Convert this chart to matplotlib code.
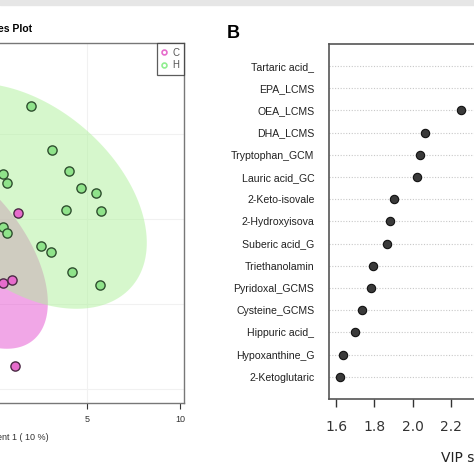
import numpy as np
import matplotlib
matplotlib.use("Agg")
import matplotlib.pyplot as plt
from matplotlib.patches import Rectangle

plt.rcParams['font.family'] = ['Liberation Sans', 'DejaVu Sans']

# ---- panel A : PLS-DA scores (only the visible part) ----
h_x = [1.99, 3.12, 0.48, 0.70, 4.03, 4.68, 5.48, 3.87, 5.75, 0.48, 0.70, 2.53, 3.06, 4.19, 5.70]
h_y = [6.65, 4.06, 2.65, 2.12, 2.82, 1.82, 1.53, 0.53, 0.47, -0.47, -0.82, -1.59, -1.94, -3.12, -3.88]
c_x = [1.29, 0.48, 0.97, 1.13]
c_y = [0.35, -3.76, -3.59, -8.65]

# confidence regions: centre, sd x, sd y, correlation
h_ell = (1.77, 1.35, 6.45, 6.63, -0.414)
c_ell = (-1.83, -1.82, 4.73, 5.81, -0.535)

# ---- panel B : VIP scores ----
vip_names = ['Tartaric acid_', 'EPA_LCMS', 'OEA_LCMS', 'DHA_LCMS', 'Tryptophan_GCM',
             'Lauric acid_GC', '2-Keto-isovale', '2-Hydroxyisova', 'Suberic acid_G',
             'Triethanolamin', 'Pyridoxal_GCMS', 'Cysteine_GCMS', 'Hippuric acid_',
             'Hypoxanthine_G', '2-Ketoglutaric']
vip_vals = [2.99, 2.56, 2.252, 2.064, 2.038, 2.021, 1.901, 1.882, 1.868,
            1.793, 1.784, 1.737, 1.699, 1.638, 1.619]


def ellipse_xy(e):
    cx, cy, sx, sy, r = e
    t = np.linspace(0, 2 * np.pi, 200)
    x = cx + sx * np.cos(t)
    y = cy + sy * (r * np.cos(t) + np.sqrt(1 - r ** 2) * np.sin(t))
    return x, y


W = 474.0
fig = plt.figure(figsize=(4.74, 4.74), dpi=100)
fig.patches.append(Rectangle((0, 1 - 5 / W), 1, 5 / W, transform=fig.transFigure,
                             color='#e6e6e6', zorder=0))

# left panel, mostly outside the picture
ax1 = fig.add_axes([-172 / W, 71 / W, 356 / W, 360 / W])
ax1.set_xlim(-8.92, 10.22)
ax1.set_ylim(-10.82, 10.35)
for v in [-5, 0, 5]:
    ax1.axvline(v, color='#f1f1f1', lw=0.8, zorder=0)
for v in [-10, -5, 0, 5]:
    ax1.axhline(v, color='#f1f1f1', lw=0.8, zorder=0)

ex, ey = ellipse_xy(c_ell)
ax1.fill(ex, ey, color=(229 / 255, 81 / 255, 209 / 255), alpha=0.5, lw=0, zorder=1)
ex, ey = ellipse_xy(h_ell)
ax1.fill(ex, ey, color=(175 / 255, 241 / 255, 155 / 255), alpha=0.5, lw=0, zorder=2)

ax1.scatter(h_x, h_y, s=44, c='#8fe38a', edgecolors='#2f4f2f', linewidths=1.0, zorder=3)
ax1.scatter(c_x, c_y, s=44, c='#e66ccc', edgecolors='#4a2a44', linewidths=1.0, zorder=3)

ax1.set_xticks([5, 10])
ax1.set_xticklabels(['5', '10'])
ax1.tick_params(axis='x', labelsize=6.5, colors='#333333', length=4, width=0.8, pad=5)
ax1.set_yticks([])
for s in ax1.spines.values():
    s.set_color('#777777')
    s.set_linewidth(1.0)
ax1.set_xlabel('Component 1 ( 10 %)', fontsize=6.5, color='#333333', labelpad=6)

leg = ax1.legend(handles=[
    plt.Line2D([], [], ls='none', marker='o', ms=3.5, mfc='none', mec='#e66ccc', mew=1.2, label='C'),
    plt.Line2D([], [], ls='none', marker='o', ms=3.5, mfc='none', mec='#90ee90', mew=1.2, label='H')],
    loc='upper right', bbox_to_anchor=(1.0, 1.0), fontsize=7, frameon=True, fancybox=False,
    borderaxespad=0, handlelength=0.6, handletextpad=0.5, borderpad=0.5, labelspacing=0.25,
    edgecolor='#333333')
leg.get_frame().set_linewidth(0.9)
for t in leg.get_texts():
    t.set_color('#555555')

fig.text(32 / W, 1 - 29 / W, 'Scores Plot', fontsize=7.5, fontweight='bold', ha='right', va='center')

# right panel, cut at the right edge
ax2 = fig.add_axes([329 / W, 75 / W, 294 / W, 355.3 / W])
n = len(vip_names)
rows = np.arange(n, 0, -1)
for r in rows:
    ax2.axhline(r, color='#c8c8c8', ls=(0, (1, 1.5)), lw=0.8, zorder=1)
ax2.scatter(vip_vals, rows, s=36, c='#3a3a3a', edgecolors='#111111', linewidths=0.8, zorder=3)
ax2.set_ylim(0, n + 1)
ax2.set_xlim(1.563, 3.097)
ax2.set_yticks(rows)
ax2.set_yticklabels(vip_names, fontsize=7.6, color='#222222')
ax2.tick_params(axis='y', length=0, pad=10.5)
ax2.set_xticks([1.6, 1.8, 2.0, 2.2])
ax2.set_xticklabels(['1.6', '1.8', '2.0', '2.2'], family='DejaVu Sans')
ax2.tick_params(axis='x', labelsize=10, colors='#333333', length=6, width=1.0, pad=9)
for s in ax2.spines.values():
    s.set_color('#555555')
    s.set_linewidth(1.2)
ax2.set_xlabel('VIP scores', fontsize=10, labelpad=12, color='#222222', family='DejaVu Sans')

fig.text(227 / W, 1 - 33 / W, 'B', fontsize=13, fontweight='bold', ha='left', va='center')

fig.savefig('out.png', dpi=100)
